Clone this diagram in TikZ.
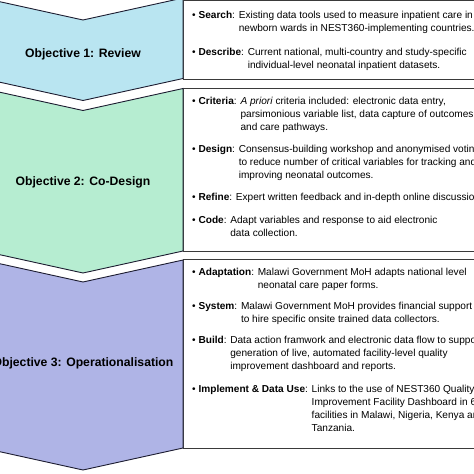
\documentclass[tikz,border=0pt]{standalone}
\usepackage{fontspec}
\setmainfont{Liberation Sans}
\usepackage{tikz}
\usetikzlibrary{positioning}
\definecolor{cline}{HTML}{1C1C30}
\definecolor{cbox}{HTML}{3A3A3A}
\definecolor{crev}{HTML}{B9E5F1}
\definecolor{cdes}{HTML}{B6EDD1}
\definecolor{cops}{HTML}{AFB4E6}
\tikzset{
  chev/.style={draw=cline, line width=0.9pt, line join=miter},
  panel/.style={draw=cbox, line width=0.9pt, fill=white},
  objlabel/.style={font=\fontsize{12.2}{14}\selectfont\bfseries, inner sep=0pt},
  itemtxt/.style={font=\fontsize{10.1}{13}\selectfont, anchor=base west, inner sep=0pt},
}
\newcommand{\bitem}[2]{\textbullet\ \textbf{#1}: \begin{tabular}[t]{@{}l@{}}#2\end{tabular}}
% chevron between right-edge tops #1 and bottoms #2
\newcommand{\chevpath}[2]{(-17,#1) -- (83,#1+22) -- (183,#1) -- (183,#2) -- (83,#2+22) -- (-17,#2) -- cycle}

\begin{document}
\begin{tikzpicture}[x=1pt, y=-1pt]
  \useasboundingbox (0,0) rectangle (474,474);
  \clip (0,0) rectangle (474,474);

  % text panels
  \draw[panel] (183,0.5) rectangle (490,79);
  \draw[panel] (183,88) rectangle (490,251);
  \draw[panel] (183,259) rectangle (490,448);

  % chevrons
  \draw[chev, fill=crev] \chevpath{-2}{78.5};
  \draw[chev, fill=cdes] \chevpath{88.5}{251};
  \draw[chev, fill=cops] \chevpath{260}{448};

  \node[objlabel] (review) at (83,54) {Objective 1: Review};
  \node[objlabel] (codesign) at (83,182) {Objective 2: Co-Design};
  \node[objlabel] (operat) at (83,363) {Objective 3: Operationalisation};

  % objective 1
  \node[itemtxt] (search) at (192,18.5) {\bitem{Search}{Existing data tools used to measure inpatient care in\\
    newborn wards in NEST360-implementing countries.}};
  \node[itemtxt] (describe) at (192,55.5) {\bitem{Describe}{Current national, multi-country and study-specific\\
    individual-level neonatal inpatient datasets.}};

  % objective 2
  \node[itemtxt] (criteria) at (192,104.5) {\bitem{Criteria}{\textit{A priori} criteria included: electronic data entry,\\
    parsimonious variable list, data capture of outcomes\\ and care pathways.}};
  \node[itemtxt] (design) at (192,152.5) {\bitem{Design}{Consensus-building workshop and anonymised voting\\
    to reduce number of critical variables for tracking and\\ improving neonatal outcomes.}};
  \node[itemtxt] (refine) at (192,200.5) {\bitem{Refine}{Expert written feedback and in-depth online discussion.}};
  \node[itemtxt] (code) at (192,223.5) {\bitem{Code}{Adapt variables and response to aid electronic\\ data collection.}};

  % objective 3
  \node[itemtxt] (adapt) at (192,275.5) {\bitem{Adaptation}{Malawi Government MoH adapts national level\\
    neonatal care paper forms.}};
  \node[itemtxt] (system) at (192,309.5) {\bitem{System}{Malawi Government MoH provides financial support\\
    to hire specific onsite trained data collectors.}};
  \node[itemtxt] (build) at (192,343.5) {\bitem{Build}{Data action framwork and electronic data flow to support\\
    generation of live, automated facility-level quality\\ improvement dashboard and reports.}};
  \node[itemtxt] (implement) at (192,392.5) {\bitem{Implement \& Data Use}{Links to the use of NEST360 Quality\\
    Improvement Facility Dashboard in 64\\ facilities in Malawi, Nigeria, Kenya and\\ Tanzania.}};
\end{tikzpicture}
\end{document}
